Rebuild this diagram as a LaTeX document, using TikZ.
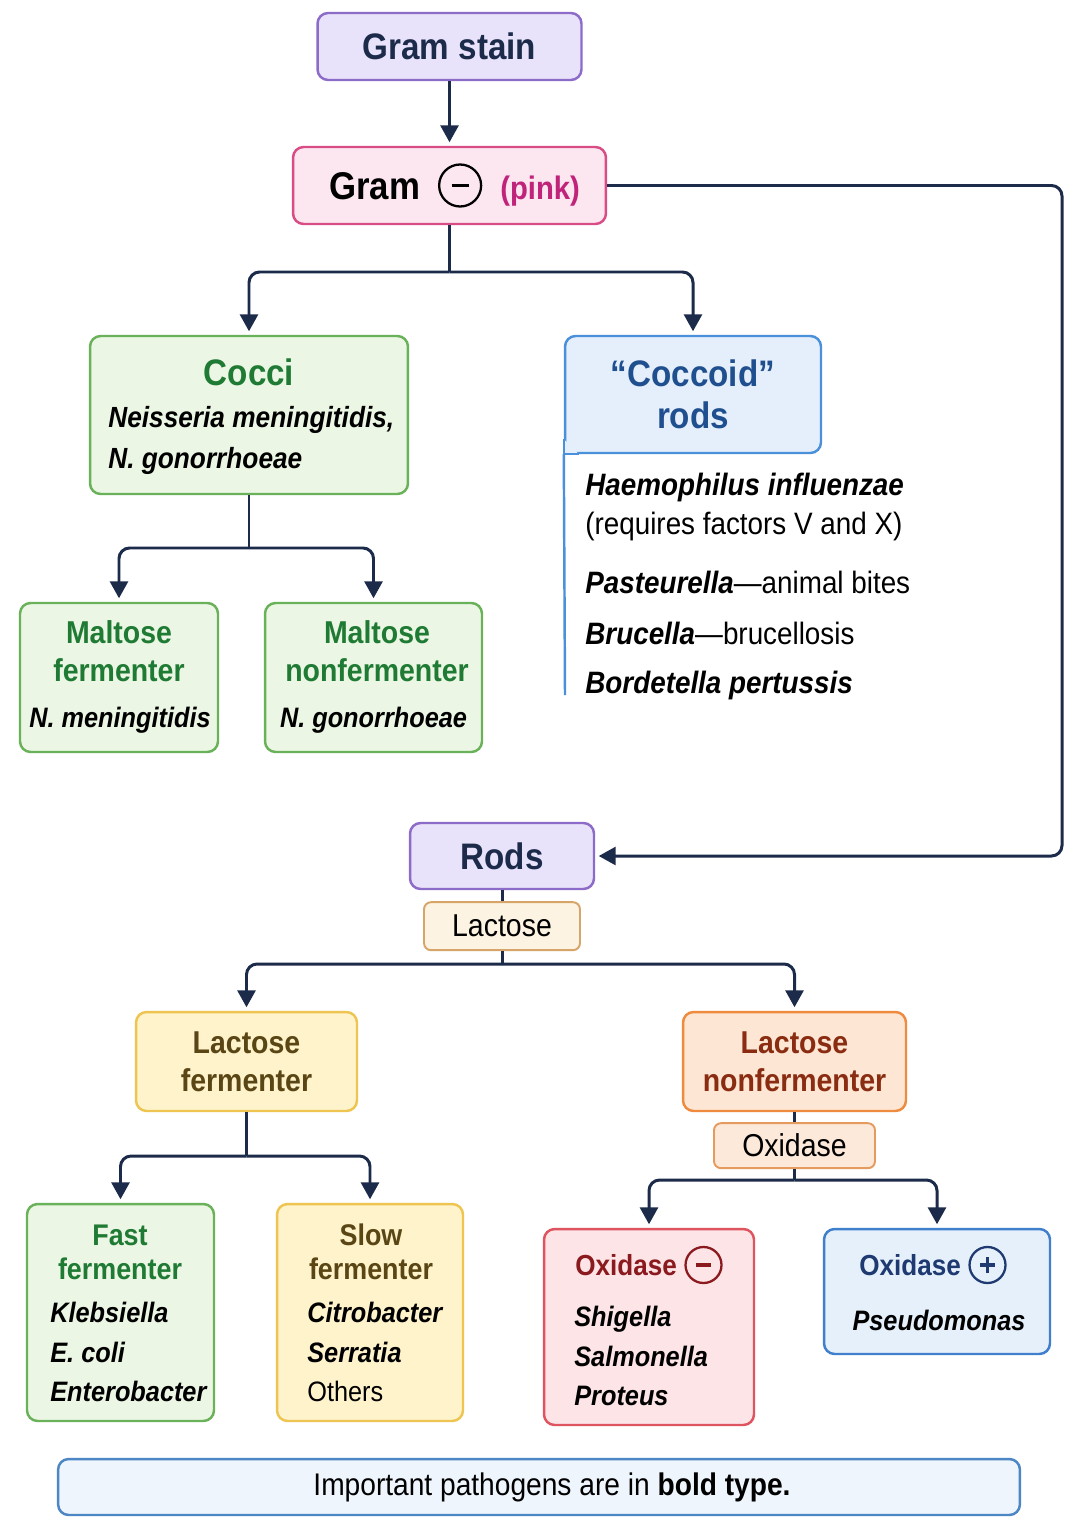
\documentclass[tikz,border=0pt]{standalone}
\usepackage{fontspec}
\setmainfont{Liberation Sans}[FakeStretch=0.9]
\usepackage{xcolor}
\definecolor{navy}{HTML}{1C2B4A}
\definecolor{purpD}{HTML}{8C6BC9}
\definecolor{purpL}{HTML}{E8E2FA}
\definecolor{pinkD}{HTML}{D94C86}
\definecolor{pinkL}{HTML}{FCE6EF}
\definecolor{pinkT}{HTML}{C0237A}
\definecolor{grnD}{HTML}{6AB25A}
\definecolor{grnL}{HTML}{ECF6E4}
\definecolor{grnT}{HTML}{1F7A34}
\definecolor{bluD}{HTML}{4A90DA}
\definecolor{bluL}{HTML}{E4EFFB}
\definecolor{bluT}{HTML}{1F4F8F}
\definecolor{crmD}{HTML}{D7A46A}
\definecolor{crmL}{HTML}{FDF3E2}
\definecolor{ylwD}{HTML}{EFC552}
\definecolor{ylwL}{HTML}{FFF3CC}
\definecolor{ylwT}{HTML}{5A4614}
\definecolor{orgD}{HTML}{EE8B3F}
\definecolor{orgL}{HTML}{FDE7D4}
\definecolor{orgT}{HTML}{8A2C12}
\definecolor{pchD}{HTML}{E59A5E}
\definecolor{pchL}{HTML}{FCE9DA}
\definecolor{redD}{HTML}{DE5560}
\definecolor{redL}{HTML}{FCE4E7}
\definecolor{redT}{HTML}{8A1A1E}
\definecolor{oxbD}{HTML}{3F7FCB}
\definecolor{oxbL}{HTML}{E5F0FB}
\definecolor{oxbT}{HTML}{1E3A70}
\definecolor{noteD}{HTML}{4C86C4}
\definecolor{noteL}{HTML}{EEF5FC}
\usetikzlibrary{arrows.meta,positioning}
\newcommand{\cminus}[2]{\tikz[baseline=-0.7ex]{\draw[#1, line width=1.3pt] (0pt,0pt) circle [radius=#2]; \draw[#1, line width=1.9pt] (-0.4*#2,0pt) -- (0.4*#2,0pt);}}
\newcommand{\cplus}[2]{\tikz[baseline=-0.7ex]{\draw[#1, line width=1.3pt] (0pt,0pt) circle [radius=#2]; \draw[#1, line width=1.8pt] (-0.42*#2,0pt) -- (0.42*#2,0pt) (0pt,-0.42*#2) -- (0pt,0.42*#2);}}

\begin{document}
\begin{tikzpicture}[
  x=0.02cm, y=-0.02cm,
  box/.style={draw, rounded corners=6pt, line width=1.4pt, inner sep=0pt, align=center},
  tag/.style={draw, rounded corners=4pt, line width=1.1pt, inner sep=0pt, align=center, font=\fontsize{18}{22}\selectfont},
  hdtext/.style={font=\fontsize{21}{24}\selectfont\bfseries, align=center},
  subtext/.style={font=\fontsize{18}{21.5}\selectfont\bfseries, align=center},
  spectext/.style={font=\fontsize{16}{22.3}\selectfont\bfseries\itshape, align=left, anchor=west, inner sep=0pt},
  listtext/.style={font=\fontsize{17.6}{22.7}\selectfont, align=left, anchor=west, inner sep=0pt},
  link/.style={draw=navy, line width=1.7pt, rounded corners=6pt},
  arrow/.style={link, -{Triangle[length=0.34cm,width=0.36cm]}, shorten >=2pt}
]
\fill[white] (0,0) rectangle (1079,1537);

\node[box, draw=purpD, fill=purpL, text=navy, hdtext, minimum width=5.28cm, minimum height=1.34cm] (stain) at (449.5,46.5) {Gram stain};
\node[box, draw=pinkD, fill=pinkL, minimum width=6.26cm, minimum height=1.54cm] (gneg) at (449.5,185.5) {\hspace{0.2cm}\fontsize{22}{26}\selectfont\bfseries Gram\hspace{0.36cm}\cminus{black}{0.42cm}\hspace{0.36cm}\textcolor{pinkT}{\fontsize{18.5}{22}\selectfont (pink)}};

\node[box, draw=grnD, fill=grnL, minimum width=6.36cm, minimum height=3.16cm] (cocci) at (249,415) {};
\node[hdtext, text=grnT] (cocciT) at (249,372) {Cocci};
\node[spectext, font=\fontsize{16.6}{23.2}\selectfont\bfseries\itshape] (cocciL) at (108,440.5) {Neisseria meningitidis,\\N. gonorrhoeae};

\node[box, draw=grnD, fill=grnL, minimum width=3.96cm, minimum height=2.98cm] (malt) at (119,677.5) {};
\node[subtext, text=grnT] (maltT) at (119,651.5) {Maltose\\fermenter};
\node[spectext, anchor=center] (maltL) at (120,720) {N. meningitidis};

\node[box, draw=grnD, fill=grnL, minimum width=4.34cm, minimum height=2.98cm] (nonmalt) at (373.5,677.5) {};
\node[subtext, text=grnT] (nonmaltT) at (377,651.5) {Maltose\\nonfermenter};
\node[spectext, anchor=center] (nonmaltL) at (373.5,720) {N. gonorrhoeae};

\node[box, draw=bluD, fill=bluL, text=bluT, hdtext, minimum width=5.12cm, minimum height=2.34cm] (coccoid) at (693,394.5) {“Coccoid”\\rods};
\coordinate (listend) at (565,695);
\filldraw[draw=bluD, fill=bluL, line width=1.4pt] ([yshift=0.3cm]coccoid.south west) |- ([xshift=0.3cm]coccoid.south west);
\draw[bluD, line width=1.4pt] (coccoid.south west) -- (listend);
\node[listtext] (hflu) at (585,507) {\textbf{\itshape Haemophilus influenzae}\\(requires factors V and X)};
\node[listtext] (past) at (585,582) {\textbf{\itshape Pasteurella}—animal bites};
\node[listtext] (bruc) at (585,633) {\textbf{\itshape Brucella}—brucellosis};
\node[listtext] (bord) at (585,685) {\textbf{\itshape Bordetella pertussis}};

\node[box, draw=purpD, fill=purpL, text=navy, hdtext, minimum width=3.68cm, minimum height=1.32cm] (rods) at (502,856) {Rods};
\node[tag, draw=crmD, fill=crmL, minimum width=3.12cm, minimum height=0.96cm, below=0.22cm of rods] (lac) {Lactose};

\node[box, draw=ylwD, fill=ylwL, text=ylwT, subtext, minimum width=4.42cm, minimum height=1.98cm] (lacf) at (246.5,1061.5) {Lactose\\fermenter};
\node[box, draw=orgD, fill=orgL, text=orgT, subtext, minimum width=4.46cm, minimum height=1.98cm] (lacn) at (794.5,1061.5) {Lactose\\nonfermenter};
\node[tag, draw=pchD, fill=pchL, minimum width=3.22cm, minimum height=0.9cm, below=0.2cm of lacn] (oxi) {Oxidase};

\node[box, draw=grnD, fill=grnL, minimum width=3.74cm, minimum height=4.34cm] (fast) at (120.5,1312.5) {};
\node[subtext, text=grnT, font=\fontsize{17}{19.5}\selectfont\bfseries] (fastT) at (120,1252) {Fast\\fermenter};
\node[spectext] (fastL) at (50,1352) {Klebsiella\\E. coli\\Enterobacter};

\node[box, draw=ylwD, fill=ylwL, minimum width=3.72cm, minimum height=4.34cm] (slow) at (370,1312.5) {};
\node[subtext, text=ylwT, font=\fontsize{17}{19.5}\selectfont\bfseries] (slowT) at (371,1252) {Slow\\fermenter};
\node[spectext] (slowL) at (307,1352) {Citrobacter\\Serratia\\{\mdseries\upshape Others}};

\node[box, draw=redD, fill=redL, minimum width=4.2cm, minimum height=3.92cm] (oxneg) at (649,1327) {};
\node[subtext, text=redT, font=\fontsize{16.5}{20}\selectfont\bfseries] (oxnegT) at (649,1265) {Oxidase\hspace{0.15cm}\cminus{redT}{0.36cm}};
\node[spectext, font=\fontsize{16}{22.7}\selectfont\bfseries\itshape] (oxnegL) at (574,1356) {Shigella\\Salmonella\\Proteus};

\node[box, draw=oxbD, fill=oxbL, minimum width=4.52cm, minimum height=2.5cm] (oxpos) at (937,1291.5) {};
\node[subtext, text=oxbT, font=\fontsize{16.5}{20}\selectfont\bfseries] (oxposT) at (933,1265) {Oxidase\hspace{0.15cm}\cplus{oxbT}{0.36cm}};
\node[spectext, anchor=center] (oxposL) at (939,1320) {Pseudomonas};

\node[box, draw=noteD, fill=noteL, minimum width=19.24cm, minimum height=1.12cm, font=\fontsize{17.8}{21}\selectfont] (note) at (539,1487) {\hspace{0.52cm}Important pathogens are in \textbf{bold type.}};

\coordinate (j1) at (449.5,272);
\coordinate (j2) at (249,548);
\coordinate (j3) at (502,964);
\coordinate (j4) at (794.5,1180);
\coordinate (j5) at (246.5,1156);
\coordinate (rt) at (1062,856);

\draw[arrow] (stain.south) -- (gneg.north);
\draw[link] (gneg.south) -- (j1);
\draw[arrow] (j1) -| (cocci.north);
\draw[arrow] (j1) -| (coccoid.north);
\draw[arrow] (gneg.east) -| (rt) -- (rods.east);
\draw[link] (cocci.south) -- (j2);
\draw[arrow] (j2) -| (malt.north);
\draw[arrow] (j2) -| (nonmalt.north);
\draw[link] (rods.south) -- (lac.north);
\draw[link] (lac.south) -- (j3);
\draw[arrow] (j3) -| (lacf.north);
\draw[arrow] (j3) -| (lacn.north);
\draw[link] (lacn.south) -- (oxi.north);
\draw[link] (oxi.south) -- (j4);
\draw[arrow] (j4) -| (oxneg.north);
\draw[arrow] (j4) -| (oxpos.north);
\draw[link] (lacf.south) -- (j5);
\draw[arrow] (j5) -| (fast.north);
\draw[arrow] (j5) -| (slow.north);
\end{tikzpicture}
\end{document}
